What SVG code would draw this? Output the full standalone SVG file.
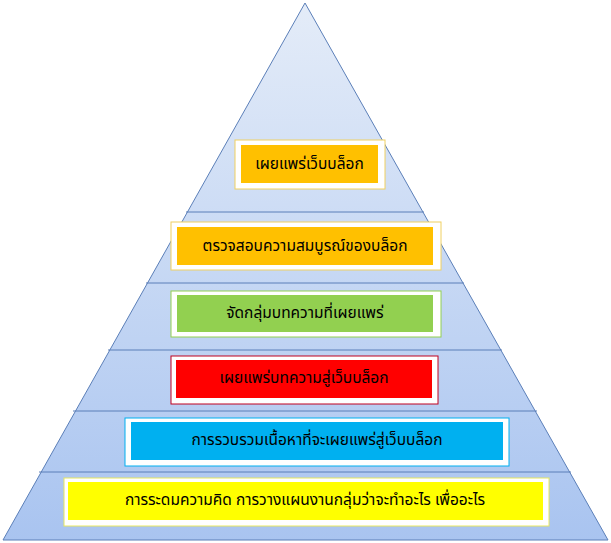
<svg xmlns="http://www.w3.org/2000/svg" width="611" height="543" viewBox="0 0 611 543">
<style>
text{font-family:"Noto Sans Thai","Noto Sans","DejaVu Sans",sans-serif;font-size:15.5px;fill:#000;text-anchor:middle;dominant-baseline:central}
.outer{fill:#fff;stroke-width:1}
.sep{stroke:#5b7fb8;stroke-width:1}
</style>
<defs>
<linearGradient id="g" x1="0" y1="0" x2="0" y2="1">
<stop offset="0" stop-color="#e4ecf8"/>
<stop offset="1" stop-color="#a9c4f0"/>
</linearGradient>
</defs>
<g id="pyramid">
<polygon points="305,3 608,540 3,540" fill="url(#g)" stroke="#5b7fb8" stroke-width="1"/>
</g>
<g id="connectors">
<line class="sep" x1="186" y1="212" x2="424" y2="212"/>
<line class="sep" x1="146" y1="283" x2="464" y2="283"/>
<line class="sep" x1="108" y1="350" x2="502" y2="350"/>
<line class="sep" x1="73" y1="411" x2="537" y2="411"/>
<line class="sep" x1="39" y1="472" x2="571" y2="472"/>
</g>
<g id="n1"><rect class="outer" x="235" y="140" width="150" height="49" stroke="#f0d060"/><rect x="241" y="145" width="137" height="38" fill="#ffc000"/><text x="309.5" y="164">เผยแพร่เว็บบล็อก</text></g>
<g id="n2"><rect class="outer" x="171" y="222" width="270" height="48" stroke="#f0d060"/><rect x="177" y="227" width="256" height="38" fill="#ffc000"/><text x="305" y="246">ตรวจสอบความสมบูรณ์ของบล็อก</text></g>
<g id="n3"><rect class="outer" x="171" y="291" width="270" height="46" stroke="#92d050"/><rect x="177" y="295" width="256" height="37" fill="#92d050"/><text x="305" y="313">จัดกลุ่มบทความที่เผยแพร่</text></g>
<g id="n4"><rect class="outer" x="171" y="356" width="267" height="48" stroke="#c00020"/><rect x="176" y="360" width="256" height="38" fill="#ff0000"/><text x="304" y="378">เผยแพร่บทความสู่เว็บบล็อก</text></g>
<g id="n5"><rect class="outer" x="125" y="418" width="384" height="48" stroke="#00b0f0"/><rect x="131" y="422" width="372" height="38" fill="#00b0f0"/><text x="317" y="440">การรวบรวมเนื้อหาที่จะเผยแพร่สู่เว็บบล็อก</text></g>
<g id="n6"><rect class="outer" x="64" y="478" width="485" height="48" stroke="#e8e860"/><rect x="68" y="482" width="475" height="38" fill="#ffff00"/><text x="305" y="500">การระดมความคิด การวางแผนงานกลุ่มว่าจะทำอะไร  เพื่ออะไร</text></g>
</svg>
